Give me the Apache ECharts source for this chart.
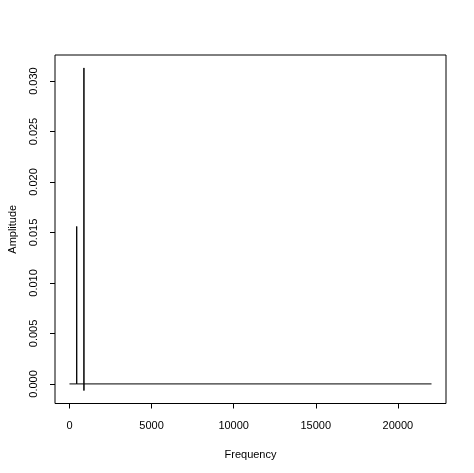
<!DOCTYPE html>
<html>
<head>
<meta charset="utf-8">
<script src="https://cdn.jsdelivr.net/npm/echarts@6/dist/echarts.min.js"></script>
<style>html,body{margin:0;padding:0;background:#fff;}#c{width:474px;height:473px;}</style>
</head>
<body>
<div id="c"></div>
<script>
// Spectrum trace (frequency Hz, amplitude)
const frequency = [0, 439, 440, 441, 879, 880, 881, 882, 22050];
const amplitude = [0, 0, 0.0156, 0, 0, 0.0313, -0.00066, 0, 0];
const xTicks = [0, 5000, 10000, 15000, 20000];
const yTicks = [0, 0.005, 0.010, 0.015, 0.020, 0.025, 0.030];

const data = frequency.map((f, i) => [f, amplitude[i]]);
const font = 'Liberation Sans, Arial, sans-serif';
const chart = echarts.init(document.getElementById('c'), null, {renderer: 'canvas'});
chart.setOption({
  animation: false,
  backgroundColor: '#fff',
  grid: {left: 55, right: 28, top: 55, bottom: 69.5, containLabel: false, outerBoundsMode: 'none',
    show: true, borderColor: '#000', borderWidth: 1, backgroundColor: 'transparent'},
  xAxis: {
    type: 'value', min: -882, max: 22932,
    name: 'Frequency', nameLocation: 'middle', nameGap: 46,
    nameTextStyle: {color: '#000', fontSize: 11, fontFamily: font},
    axisLine: {show: false, onZero: false},
    splitLine: {show: false},
    axisTick: {show: true, length: 5, inside: false, customValues: xTicks, lineStyle: {color: '#000'}},
    axisLabel: {customValues: xTicks, color: '#000', fontSize: 11, fontFamily: font, margin: 17,
      formatter: v => String(v)}
  },
  yAxis: {
    type: 'value', min: -0.00194, max: 0.03258,
    name: 'Amplitude', nameLocation: 'middle', nameGap: 37, nameRotate: 90,
    nameTextStyle: {color: '#000', fontSize: 11, fontFamily: font},
    axisLine: {show: false, onZero: false},
    splitLine: {show: false},
    axisTick: {show: true, length: 5, inside: false, customValues: yTicks, lineStyle: {color: '#000'}},
    axisLabel: {customValues: yTicks, rotate: 90, color: '#000', fontSize: 11, fontFamily: font, margin: 16,
      formatter: v => v.toFixed(3)}
  },
  series: [{
    type: 'line', data: data, showSymbol: false, symbol: 'none',
    lineStyle: {color: '#000', width: 1}, silent: true
  }]
});
</script>
</body>
</html>
